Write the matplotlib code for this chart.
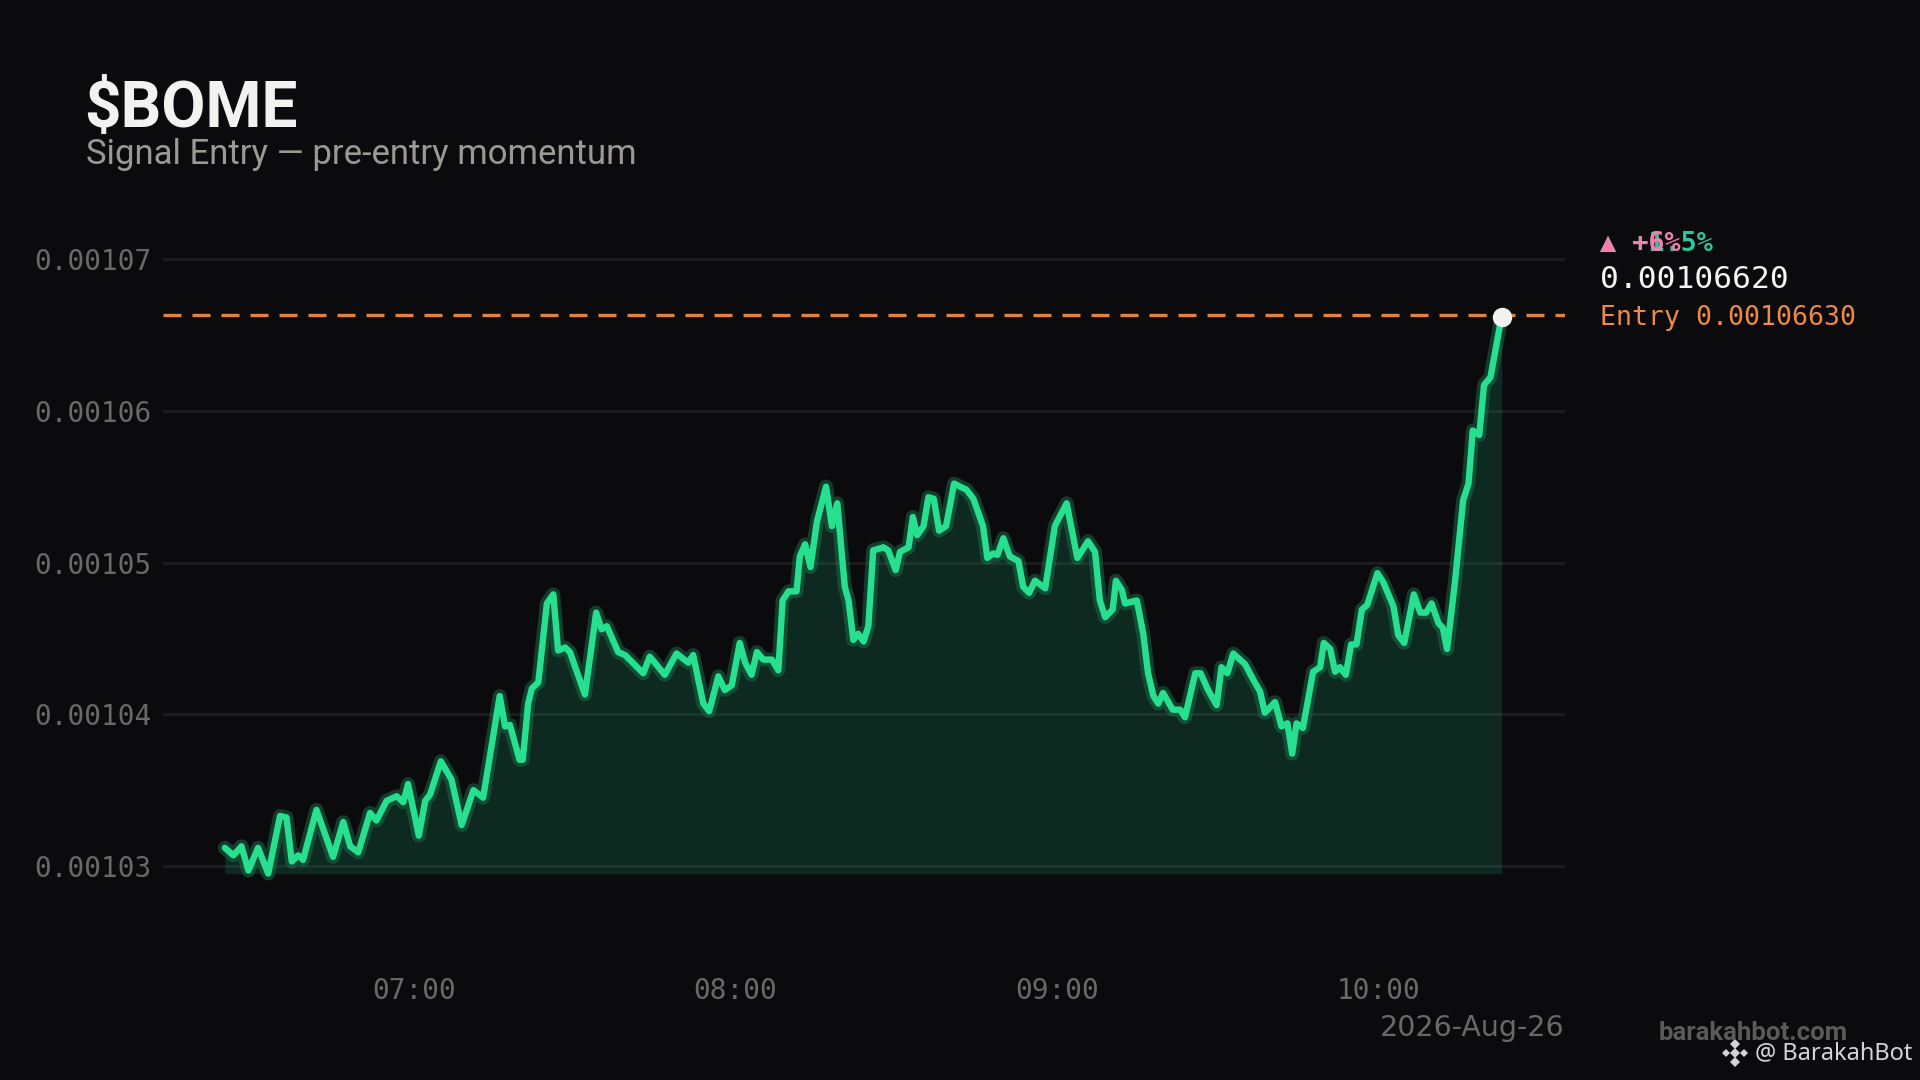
import numpy as np
import matplotlib
matplotlib.use("Agg")
import matplotlib.pyplot as plt
from matplotlib.lines import Line2D

# ---------------- data ----------------
minutes_after_0600 = [
    24.7, 26.3, 27.8, 29.1, 30.9, 32.8, 35.0, 36.2, 37.2, 38.4, 39.3, 41.8, 44.9, 46.8, 48.1, 49.6,
    51.8, 53.0, 54.9, 56.8, 58.0, 58.9, 60.9, 62.1, 63.0, 65.0, 67.0, 68.9, 71.1, 72.9, 76.0, 77.0,
    77.9, 79.7, 80.3, 81.3, 82.0, 83.2, 84.8, 86.0, 86.9, 88.2, 89.1, 91.9, 94.0, 95.0, 96.0, 98.1,
    99.4, 102.8, 104.0, 106.8, 109.0, 111.2, 112.1, 114.0, 115.1, 116.8, 118.0, 119.3, 120.8, 121.8,
    123.0, 124.0, 125.2, 126.8, 128.0, 128.8, 129.9, 131.4, 132.0, 133.0, 134.0, 135.2, 136.9, 138.0,
    139.0, 140.4, 141.1, 142.0, 142.9, 143.9, 144.8, 145.7, 147.6, 148.5, 149.9, 150.7, 152.3, 153.1,
    153.9, 155.1, 156.0, 157.0, 158.0, 159.3, 160.8, 161.9, 163.1, 164.4, 166.2, 167.0, 168.1, 168.9,
    170.0, 171.2, 172.8, 173.7, 174.8, 175.9, 177.8, 179.6, 181.8, 183.8, 185.8, 187.1, 188.0, 189.0,
    190.4, 191.0, 192.1, 192.7, 194.9, 196.1, 197.0, 198.0, 198.9, 199.8, 201.6, 203.0, 203.9, 205.8,
    206.8, 208.2, 209.8, 210.7, 211.8, 212.9, 215.1, 216.6, 217.9, 218.8, 220.7, 221.9, 223.0, 223.9,
    224.7, 225.9, 227.8, 229.1, 229.8, 231.0, 231.9, 232.8, 233.9, 234.9, 235.9, 236.9, 237.9, 239.8,
    240.9, 242.8, 243.7, 244.8, 246.6, 247.8, 248.9, 249.9, 251.2, 252.0, 252.8, 254.3, 255.8, 256.8,
    257.6, 258.8, 259.7, 260.9, 262.4, 263.0,
]
price_1e5 = [
    103.12, 103.07, 103.13, 102.97, 103.12, 102.95, 103.33, 103.32, 103.03, 103.07, 103.04, 103.37, 103.06, 103.29, 103.13, 103.09,
    103.35, 103.30, 103.43, 103.46, 103.42, 103.54, 103.20, 103.43, 103.47, 103.69, 103.57, 103.27, 103.50, 103.45, 104.12, 103.92,
    103.93, 103.70, 103.70, 104.07, 104.17, 104.21, 104.73, 104.79, 104.42, 104.44, 104.41, 104.13, 104.67, 104.56, 104.58, 104.41,
    104.39, 104.27, 104.38, 104.26, 104.40, 104.34, 104.39, 104.07, 104.02, 104.25, 104.16, 104.19, 104.47, 104.34,
    104.26, 104.41, 104.36, 104.36, 104.29, 104.75, 104.81, 104.81, 105.04, 105.12, 104.97, 105.27, 105.50, 105.24,
    105.39, 104.84, 104.75, 104.49, 104.53, 104.48, 104.58, 105.08, 105.10, 105.08, 104.95, 105.07, 105.10, 105.30,
    105.18, 105.24, 105.43, 105.42, 105.21, 105.24, 105.52, 105.50, 105.48, 105.42, 105.24, 105.03, 105.06, 105.05,
    105.16, 105.04, 105.01, 104.84, 104.80, 104.88, 104.83, 105.24, 105.39, 105.03, 105.14, 105.07, 104.75, 104.64,
    104.69, 104.88, 104.82, 104.73, 104.75, 104.53, 104.27, 104.12, 104.07, 104.14, 104.03, 104.03, 103.98, 104.27,
    104.27, 104.16, 104.06, 104.31, 104.27, 104.40, 104.33, 104.23, 104.15, 104.01, 104.08, 103.92, 103.94, 103.74,
    103.94, 103.91, 104.28, 104.31, 104.47, 104.43, 104.28, 104.31, 104.26, 104.46, 104.46, 104.69, 104.72, 104.93,
    104.87, 104.71, 104.52, 104.47, 104.79, 104.67, 104.67, 104.73, 104.60, 104.57, 104.43, 104.88, 105.41, 105.52,
    105.87, 105.84, 106.17, 106.22, 106.51, 106.62,
]
entry_price = 0.00106630
last_price = 0.00106620
change_labels = ["▲ +1.5%", "▲ +6%"]

y_ticks = [0.00103, 0.00104, 0.00105, 0.00106, 0.00107]
y_tick_labels = ["0.00103", "0.00104", "0.00105", "0.00106", "0.00107"]
x_ticks = [60, 120, 180, 240]
x_tick_labels = ["07:00", "08:00", "09:00", "10:00"]

title = "$BOME"
subtitle = "Signal Entry — pre-entry momentum"
date_label = "2026-Aug-26"

# ---------------- style ----------------
BG = "#0b0b0d"
GREEN = "#27e08f"
GRID = "#1d1e21"
TICK = "#6b6965"
ORANGE = "#ef8a4c"
PINK = "#f67fae"
TEAL = "#2cc7a1"
MONO = "DejaVu Sans Mono"

x = np.array(minutes_after_0600)
y = np.array(price_1e5) * 1e-5

W, H = 1920, 1080
fig = plt.figure(figsize=(W / 100, H / 100), dpi=100, facecolor=BG)

ax_left, ax_right = 163, 1565
ax_top, ax_bot = 228.65, 926.7
ax = fig.add_axes([ax_left / W, 1 - ax_bot / H, (ax_right - ax_left) / W, (ax_bot - ax_top) / H])
ax.set_facecolor(BG)
ax.set_xlim(13.16, 274.81)
ax.set_ylim(0.001026, 0.001072)

for s in ax.spines.values():
    s.set_visible(False)

ax.set_yticks(y_ticks)
ax.set_yticklabels(y_tick_labels)
ax.set_xticks(x_ticks)
ax.set_xticklabels(x_tick_labels)
ax.tick_params(axis="both", length=0, colors=TICK, labelsize=20)
ax.tick_params(axis="y", pad=8)
ax.tick_params(axis="x", pad=36)
for lab in ax.get_xticklabels() + ax.get_yticklabels():
    lab.set_fontfamily(MONO)

ax.grid(axis="y", color=GRID, linewidth=2.0, zorder=0)
ax.grid(axis="x", visible=False)
ax.set_axisbelow(True)

# fill
ax.fill_between(x, y, y.min(), color=GREEN, alpha=0.14, linewidth=0, zorder=1)
# glow + line
ax.plot(x, y, color="#1c7a52", linewidth=10, alpha=0.45, solid_joinstyle="round",
        solid_capstyle="round", zorder=2)
ax.plot(x, y, color=GREEN, linewidth=4.6, solid_joinstyle="round", solid_capstyle="round", zorder=3)

# entry line
ax.axhline(entry_price, color="#e0833f", linewidth=2.4, dashes=(5.4, 3.3), zorder=2.5)
# endpoint
ax.plot([x[-1]], [y[-1]], marker="o", markersize=14, color="#f2f2f0", markeredgewidth=0, zorder=5)

# ---------------- texts ----------------
fig.text(84 / W, 1 - 126.7 / H, title, fontsize=46, fontweight="bold", family="Roboto",
         color="#f2f2f0", va="baseline", ha="left")
fig.text(86 / W, 1 - 164 / H, subtitle, fontsize=25, family="Roboto",
         color="#9b9994", va="baseline", ha="left")

fig.text(1600 / W, 1 - 243.5 / H, change_labels[0], fontsize=19.3, fontweight="bold", family=MONO,
         color=TEAL, va="center", ha="left")
fig.text(1600 / W, 1 - 243.5 / H, change_labels[1], fontsize=19.3, fontweight="bold", family=MONO,
         color=PINK, va="center", ha="left")
fig.text(1600 / W, 1 - 279.5 / H, f"{last_price:.8f}", fontsize=22.5, family=MONO,
         color="#f5f5f3", va="center", ha="left")
fig.text(1600 / W, 1 - 318 / H, f"Entry {entry_price:.8f}", fontsize=19.1, family=MONO,
         color=ORANGE, va="center", ha="left")

fig.text(1564 / W, 1 - 1028 / H, date_label, fontsize=20.5, family="DejaVu Sans",
         color=TICK, va="center", ha="right")

fig.text(1659 / W, 1 - 1033 / H, "barakahbot.com", fontsize=18.5, fontweight="bold",
         family="Roboto", color="#5a5a58", va="center", ha="left")
fig.text(1755 / W, 1 - 1053 / H, "@ BarakahBot", fontsize=17, family="Noto Sans",
         color="#d4d4d4", va="center", ha="left")

# small Binance-like logo
cx, cy = 1735, 1053
for dx, dy, ms in [(0, 0, 5), (0, -9, 5), (0, 9, 5), (-9, 0, 4), (9, 0, 4)]:
    fig.add_artist(Line2D([(cx + dx) / W], [1 - (cy + dy) / H], marker="D", markersize=ms,
                          color="#d4d4d4", markeredgewidth=0, transform=fig.transFigure))

fig.savefig("out.png", dpi=100, facecolor=BG)
